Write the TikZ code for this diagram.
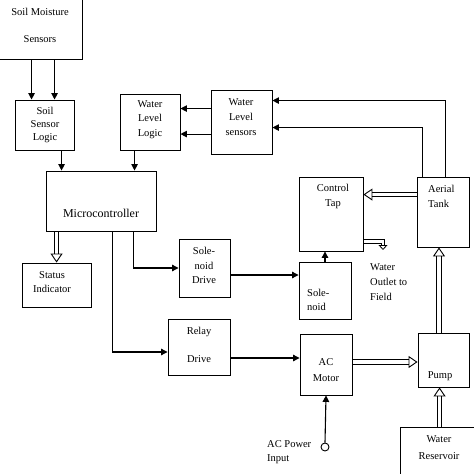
\documentclass[tikz,border=0pt]{standalone}
\usepackage{fontspec}
\setmainfont{Liberation Serif}
\usetikzlibrary{arrows.meta}
\pgfdeclarelayer{bg}
\pgfsetlayers{bg,main}
\tikzset{
  blk/.style={draw, line width=0.9pt, inner sep=0pt},
  txt/.style={inner sep=0pt, font=\fontsize{10.5}{14}\selectfont, align=center},
  arr/.style={line width=1.1pt, -{Triangle[length=6.5pt,width=6.5pt]}},
  hol/.style={draw=black, double=white, line width=0.9pt, double distance=3.6pt, -{Triangle[open,length=9pt,width=12pt,line width=0.9pt]}},
  smallhol/.style={draw=black, double=white, line width=0.8pt, double distance=2.6pt, -{Triangle[open,length=5pt,width=9pt,line width=0.8pt]}}
}
\begin{document}
\begin{tikzpicture}[x=1pt,y=-1pt]
\clip (0,0) rectangle (474,474);
\begin{pgfonlayer}{bg}
\fill[white] (0,0) rectangle (474,474);
\end{pgfonlayer}
% boxes
\node[blk, minimum width=92, minimum height=69] (sms) at (36,24.5) {};
\node[blk, minimum width=59, minimum height=50] (ssl) at (44.5,125) {};
\node[blk, minimum width=60, minimum height=56] (wll) at (150,122) {};
\node[blk, minimum width=61, minimum height=64] (wls) at (241.5,122) {};
\node[blk, minimum width=110, minimum height=60] (mc) at (101,201) {};
\node[blk, minimum width=69, minimum height=44] (si) at (56.5,285) {};
\node[blk, minimum width=51, minimum height=58] (sd) at (204.5,268) {};
\node[blk, minimum width=62, minimum height=56] (rd) at (199,347) {};
\node[blk, minimum width=64, minimum height=74] (ct) at (331,214) {};
\node[blk, minimum width=52, minimum height=57] (sol) at (325,290.5) {};
\node[blk, minimum width=52, minimum height=70] (at) at (443,212) {};
\node[blk, minimum width=52, minimum height=61] (acm) at (326,364.5) {};
\node[blk, minimum width=51, minimum height=54] (pump) at (443.5,360) {};
\node[blk, minimum width=90, minimum height=63] (res) at (445,458.5) {};
\node[draw, circle, line width=0.9pt, minimum size=8, inner sep=0pt] (acin) at (325,447) {};
% texts
\node[txt] (t1) at (40,12) {Soil Moisture};
\node[txt] (t2) at (40,39) {Sensors};
\node[txt, font=\fontsize{10.5}{13}\selectfont] (t3) at (45,125) {Soil\\Sensor\\Logic};
\node[txt, font=\fontsize{10.5}{14.5}\selectfont] (t4) at (150,119.5) {Water\\Level\\Logic};
\node[txt, font=\fontsize{10.5}{15}\selectfont] (t5) at (241,117) {Water\\Level\\sensors};
\node[txt, font=\fontsize{12}{14}\selectfont] (t6) at (101,213) {Microcontroller};
\node[txt] (t7) at (52,282) {Status\\Indicator};
\node[txt, font=\fontsize{10.5}{14.5}\selectfont] (t8) at (204,265.5) {Sole-\\noid\\Drive};
\node[txt] (t9) at (199,332) {Relay};
\node[txt] (t10) at (199,359) {Drive};
\node[txt, font=\fontsize{10.5}{15}\selectfont] (t11) at (333,196.5) {Control\\Tap};
\node[txt, align=left, anchor=west, font=\fontsize{10.5}{15}\selectfont] (t12) at (428,196.5) {Aerial\\Tank};
\node[txt, align=left, anchor=west] (t13) at (307,300) {Sole-\\noid};
\node[txt, font=\fontsize{10.5}{16}\selectfont] (t14) at (326,370) {AC\\Motor};
\node[txt] (t15) at (440,376) {Pump};
\node[txt, font=\fontsize{10.5}{17}\selectfont] (t16) at (439,448) {Water\\Reservoir};
\node[txt, align=left, anchor=west, font=\fontsize{10.5}{15}\selectfont] (t17) at (370,282) {Water\\Outlet to\\Field};
\node[txt, align=left, anchor=west] (t18) at (267,452) {AC Power\\Input};
% connectors
\begin{pgfonlayer}{bg}
\draw[arr] ([xshift=42pt]sms.south west) -- ([xshift=17pt]ssl.north west);
\draw[arr] ([xshift=65pt]sms.south west) -- ([xshift=40pt]ssl.north west);
\draw[arr] ([xshift=47pt]ssl.south west) -- ([xshift=16pt]mc.north west);
\draw[arr] ([xshift=15pt]wll.south west) -- ([xshift=89pt]mc.north west);
\draw[arr] ([yshift=-19pt]wls.north west) -- ([yshift=-19pt]wls.north west -| wll.east);
\draw[arr] ([yshift=-44.5pt]wls.north west) -- ([yshift=-44.5pt]wls.north west -| wll.east);
\draw[arr] ([xshift=29pt]at.north west) |- ([yshift=-11pt]wls.north east);
\draw[arr] ([xshift=6pt]at.north west) |- ([yshift=-38pt]wls.north east);
\draw[hol] ([yshift=-18pt]at.north west) -- ([yshift=-18pt]at.north west -| ct.east);
\coordinate (outlet) at (383,250);
\draw[smallhol] ([yshift=10pt]ct.south east) -| (outlet);
\draw[hol] ([xshift=11pt]mc.south west) -- ([xshift=35pt]si.north west);
\draw[arr] ([xshift=88pt]mc.south west) |- (sd.west);
\draw[arr] ([xshift=67pt]mc.south west) |- ([yshift=-5pt]rd.west);
\draw[arr] ([yshift=-11pt]rd.east) -- ([yshift=-11pt]rd.east -| acm.west);
\draw[arr] ([yshift=-7pt]sd.east) -- ([yshift=-7pt]sd.east -| sol.west);
\draw[arr] (sol.north) -- (sol.north |- ct.south);
\draw[hol] ([yshift=2.5pt]acm.east) -- ([yshift=2.5pt]acm.east -| pump.west);
\draw[hol] ([xshift=-4.5pt]pump.north) -- ([xshift=-4.5pt]pump.north |- at.south);
\draw[hol] ([xshift=40pt]res.north west) -- ([xshift=40pt]res.north west |- pump.south);
\draw[arr] (acin.north) -- (acm.south);
\end{pgfonlayer}
\end{tikzpicture}
\end{document}
